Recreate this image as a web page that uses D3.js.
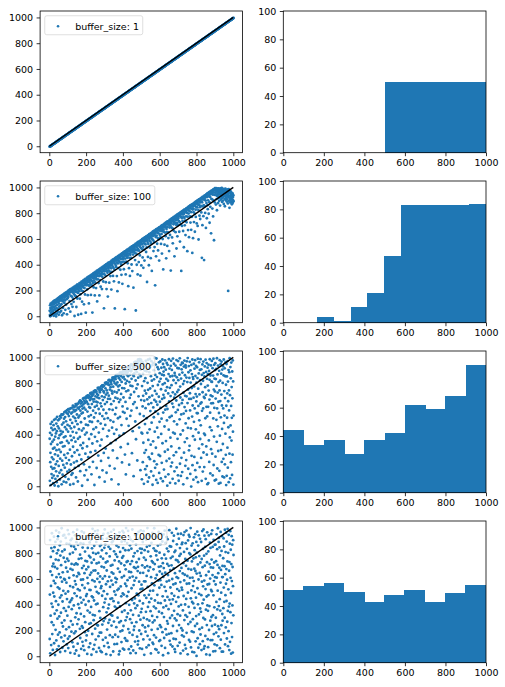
<!DOCTYPE html>
<html>
<head>
	<meta http-equiv="Content-Type" content="text/html;charset=UTF-8">
	<title>Shuffle buffer size</title>
	<style>
		body { margin: 0; background: #fff; }
		svg text { font-family: "DejaVu Sans", sans-serif; font-size: 9.5px; fill: #000; }
	</style>
</head>
<body>
	<div class="drawing"></div>

	<script src="https://d3js.org/d3.v7.min.js"></script>
	<script type="text/javascript">
		/* buffer sizes, one per row */
		var bufferSizes = [1, 100, 500, 10000];

		/* output position -> original index. buffer_size 1 keeps the input order */
		var order1 = d3.range(1000);

		var order100 = [
			45,12,88,3,67,101,30,56,9,94,72,21,108,40,63,16,99,80,35,112,
			118,52,7,96,122,74,28,124,60,105,19,129,84,47,120,2,110,133,66,24,
			136,91,127,38,142,115,58,134,145,14,102,143,77,151,122,33,139,156,86,148,
			158,130,44,162,97,150,163,11,141,165,119,169,69,155,168,132,26,174,160,108,
			178,147,179,126,170,53,181,186,157,93,184,176,136,191,18,188,166,194,144,180,
			196,152,201,64,187,204,173,199,121,207,209,189,39,212,200,162,215,208,98,214,
			208,155,193,218,76,188,225,139,209,186,115,224,208,173,232,5,203,221,163,229,
			194,238,160,222,210,75,238,191,233,248,141,212,225,248,184,15,244,207,235,228,
			242,198,261,221,139,256,236,173,263,216,256,21,236,271,202,250,116,270,230,268,
			240,275,197,266,283,226,96,259,276,222,287,247,172,273,293,260,31,287,243,277,
			292,252,276,302,212,291,269,167,304,244,291,310,269,103,304,285,238,315,266,303,
			286,318,252,308,169,318,285,305,327,243,318,274,32,328,303,317,262,336,299,227,
			335,281,319,342,306,165,335,266,332,347,303,322,222,346,290,342,355,315,118,339,
			333,360,290,354,319,348,261,364,314,337,165,365,352,284,373,332,362,232,370,317,
			367,330,380,347,214,375,309,366,387,331,375,273,388,353,369,65,390,330,379,398,
			352,397,372,319,392,267,405,368,390,214,403,355,390,412,341,401,156,384,415,374,
			419,395,357,414,264,409,384,424,348,409,315,426,398,422,375,210,435,408,347,426,
			403,433,389,442,316,421,431,378,446,274,419,441,365,436,64,452,410,436,457,397,
			450,386,444,462,421,315,460,437,198,455,413,469,437,377,465,453,266,474,428,467,
			452,480,421,469,364,478,447,467,405,486,325,475,447,492,424,255,485,465,493,445,
			498,459,485,368,496,426,481,506,58,473,497,451,508,328,484,505,427,498,517,472,
			505,457,521,490,414,516,474,237,507,526,490,376,526,457,522,509,316,536,480,521,
			497,536,519,457,533,405,545,513,532,354,502,544,522,482,552,225,537,519,555,504,
			556,530,495,553,439,548,565,518,48,555,544,489,569,403,537,567,514,576,328,559,
			524,580,554,571,424,579,512,568,585,544,475,581,559,318,592,534,581,573,398,592,
			587,562,601,523,596,460,584,603,543,379,594,610,569,521,605,435,586,615,566,602,
			617,561,608,591,502,624,601,537,621,269,593,620,579,631,464,617,564,632,609,399,
			619,640,596,634,536,618,641,583,635,454,649,613,568,643,631,355,650,602,642,658,
			625,654,593,661,509,646,636,666,580,657,540,667,631,243,659,651,618,676,468,669,
			679,629,666,675,566,651,683,610,668,514,685,648,680,600,693,435,668,688,636,685,
			674,697,617,692,664,565,705,689,641,702,490,679,710,663,602,702,694,367,713,675,
			711,658,721,694,559,710,720,653,707,727,625,693,720,453,731,680,719,736,657,549,
			698,740,719,733,655,610,742,714,732,509,743,692,751,726,634,743,708,754,358,739,
			755,725,692,762,750,615,741,759,686,569,768,740,755,717,666,774,766,733,468,758,
			768,727,779,754,656,784,748,771,711,529,783,768,791,728,624,785,754,793,711,780,
			766,800,742,795,659,785,803,734,583,796,782,810,717,807,773,355,801,815,766,704,
			818,794,743,812,823,665,808,777,823,539,798,830,766,819,709,828,813,746,633,830,
			819,779,841,808,732,839,831,804,508,846,776,839,672,852,825,800,848,617,841,858,
			821,854,844,779,863,730,840,863,811,674,859,870,839,775,859,495,874,831,855,609,
			876,839,811,873,734,884,864,873,799,659,884,860,891,830,774,883,877,895,850,724,
			884,900,849,879,704,897,869,904,828,599,898,910,867,894,784,910,886,850,758,909,
			919,892,860,916,809,911,923,457,888,911,710,930,856,923,911,780,931,866,917,439,
			927,940,906,858,936,805,925,944,901,689,939,950,882,937,764,951,928,956,866,834,
			955,903,961,943,799,956,934,966,889,729,956,968,929,853,967,950,975,647,966,914,
			979,957,972,911,839,982,969,947,778,988,982,903,963,593,990,980,946,887,997,987,
			994,961,978,870,998,942,985,913,971,826,992,953,935,984,881,996,967,919,989,948,
			976,897,993,958,930,981,862,970,949,995,908,986,939,964,918,999,952,891,974,925,
			983,946,901,968,932,991,875,959,940,987,916,962,857,977,938,993,905,954,971,922,
			944,980,893,963,910,988,934,951,879,973,200,958,926,990,899,937,966,845,982,915,
			931,975,886,953,907,969,945,892,960,923,872,948,936,911,957,884,928,902,943,895
		];

		var order500 = [
			372,45,418,190,263,487,12,331,154,456,98,401,227,503,68,349,139,440,295,27,
			212,477,86,365,519,143,302,9,446,251,388,60,526,174,413,119,490,283,35,431,
			541,197,327,82,468,240,515,3,376,161,452,288,524,108,399,55,547,217,340,433,
			269,536,128,409,560,18,344,482,202,557,93,425,311,563,169,497,39,383,528,246,
			578,315,147,462,540,76,391,586,224,507,33,444,571,180,355,593,116,479,259,565,
			427,601,58,339,548,206,582,131,470,604,287,15,519,395,607,172,453,568,92,361,
			612,236,495,577,104,426,629,310,544,21,598,380,187,619,463,265,585,146,532,624,
			349,641,509,72,595,418,634,198,560,642,283,485,613,40,372,645,537,161,604,446,
			658,247,551,620,386,669,120,590,322,645,500,663,211,567,627,435,7,655,298,606,
			574,683,339,638,452,687,173,613,666,87,529,691,404,650,256,598,684,481,129,662,
			702,420,656,312,695,583,52,708,477,640,229,689,545,706,370,617,152,699,506,672,
			612,725,268,689,556,718,407,96,730,641,502,703,335,678,727,193,590,715,446,660,
			742,537,680,13,733,619,387,748,278,701,571,745,460,659,737,145,629,720,352,693,
			655,766,508,711,241,758,603,420,769,687,73,745,566,733,318,762,647,490,751,200,
			779,624,365,755,701,786,548,127,773,672,449,788,597,741,262,730,783,526,694,39,
			641,806,479,763,296,799,715,570,810,108,748,657,803,391,728,794,532,682,805,224,
			826,706,435,789,600,829,162,754,681,820,515,772,337,812,640,795,56,743,828,458,
			723,846,596,281,838,776,503,849,664,817,410,841,737,140,802,850,562,691,834,362,
			865,612,793,443,857,731,868,221,809,684,860,531,778,869,18,750,842,657,866,396,
			787,884,542,829,675,889,306,858,720,886,478,813,874,188,765,890,623,847,581,877,
			906,692,852,414,899,763,909,573,833,249,880,908,658,801,95,893,740,904,527,870,
			821,927,605,885,930,332,858,747,921,472,900,928,171,812,915,689,868,929,549,784,
			943,714,896,949,591,837,947,260,912,780,940,431,869,945,641,927,81,858,948,735,
			879,965,657,931,968,506,903,824,966,368,950,762,969,611,889,958,203,937,794,962,
			985,846,957,701,988,915,459,978,873,990,564,941,982,128,908,857,986,672,962,419,
			934,57,781,412,968,623,190,875,705,341,952,548,22,819,667,263,901,745,486,136,
			842,609,977,284,723,91,896,531,160,958,677,418,806,39,985,752,363,640,229,917,
			71,889,694,445,991,213,762,587,930,326,858,118,649,974,497,823,256,707,943,15,
			781,960,352,615,84,904,539,833,198,673,999,427,743,146,867,584,948,302,660,52,
			995,720,173,851,458,636,927,29,789,565,382,912,246,698,965,107,816,503,881,659,
			238,972,611,837,64,756,409,923,528,185,869,681,987,337,794,42,952,575,713,893,
			865,133,927,690,467,803,271,981,598,76,745,908,354,627,836,199,960,514,772,8,
			603,946,287,822,724,96,874,442,989,661,218,917,539,767,30,855,380,703,938,157,
			977,312,788,549,906,187,645,859,61,732,994,420,618,826,243,954,507,690,119,883,
			411,862,716,25,940,577,804,268,669,983,149,849,483,735,921,371,596,88,975,827,
			751,46,918,634,299,869,523,996,178,777,692,405,946,83,839,561,224,911,648,962,
			113,886,673,958,436,797,18,729,567,932,264,820,979,618,346,865,705,162,943,491,
			925,588,206,847,701,973,375,66,812,649,998,457,754,139,888,531,936,282,681,844,
			317,969,725,592,99,903,808,452,681,1,945,239,766,874,544,987,167,630,851,392,
			836,54,691,954,503,778,231,916,607,364,982,128,859,719,445,938,73,662,808,571,
			699,927,184,843,570,993,35,761,627,419,879,296,965,515,716,152,906,827,370,644,
			990,476,797,223,911,654,45,868,589,329,949,733,117,822,607,971,265,882,696,412,
			152,855,688,933,401,772,531,986,61,714,891,312,620,959,248,837,545,19,924,785,
			873,620,28,947,746,359,898,192,676,829,989,462,574,103,863,708,941,291,647,815,
			437,976,813,256,701,920,87,648,862,530,993,168,754,389,946,611,838,48,739,905,
			958,233,684,835,54,915,519,782,348,997,607,141,871,730,468,940,277,659,812,23,
			572,899,123,747,982,396,823,664,29,951,538,284,877,715,971,192,630,448,909,79,
			805,331,934,607,216,864,987,495,72,742,552,919,173,688,857,411,966,247,791,12,
			628,952,84,856,535,724,303,975,147,816,663,461,905,35,747,592,889,256,997,382,
			710,64,928,475,841,190,627,963,358,773,534,91,894,686,248,980,427,817,16,552
		];

		var order10000 = [
			137,482,905,26,661,318,774,549,90,843,412,267,958,633,175,701,386,52,819,496,
			722,245,588,931,104,467,850,333,696,13,569,891,208,754,431,979,126,617,360,802,
			57,684,295,912,538,171,826,403,749,82,641,964,312,527,188,865,459,36,785,616,
			893,341,710,149,476,997,263,582,817,69,428,655,234,939,511,119,768,376,603,945,
			281,830,164,597,43,736,489,922,355,690,212,574,878,95,447,761,318,660,983,139,
			506,67,744,386,951,229,612,875,158,423,797,548,30,681,904,276,437,859,194,720,
			369,916,452,111,673,248,808,539,966,77,631,398,854,181,714,492,23,587,942,305,
			834,196,561,724,48,889,337,470,623,986,253,716,101,524,868,407,651,290,759,8,
			640,377,938,514,216,792,145,459,881,332,597,60,763,419,972,237,688,556,115,847,
			224,599,83,877,441,705,962,312,50,648,533,190,816,268,744,403,915,126,471,677,
			928,165,486,739,21,612,358,844,569,201,696,937,430,74,783,255,518,887,342,635,
			103,770,517,260,907,386,653,15,729,468,841,176,594,992,325,460,806,58,668,283,
			753,436,861,92,584,320,975,217,669,542,133,798,406,891,37,724,503,246,951,604,
			411,980,242,646,805,159,492,730,68,918,353,579,187,859,623,301,44,776,532,867,
			186,547,699,35,826,473,249,914,605,131,761,384,952,276,508,693,82,845,420,988,
			625,297,871,448,147,731,562,19,802,344,669,917,210,486,739,107,585,958,375,263,
			853,73,404,934,620,285,778,167,541,836,449,12,706,325,969,591,241,654,888,452,
			318,712,151,559,897,40,644,431,985,272,818,506,97,747,389,923,170,611,480,795,
			577,945,229,863,377,602,99,775,517,303,936,684,154,419,851,527,17,739,266,965,
			42,658,390,813,196,931,545,276,723,468,113,892,615,347,768,203,976,491,62,843,
			781,238,963,482,627,54,709,359,897,143,566,826,282,678,415,998,124,548,735,307,
			469,882,122,594,741,336,976,214,503,827,58,659,402,928,186,613,864,291,719,27,
			909,360,656,79,838,531,263,741,440,987,169,622,895,325,48,778,556,207,694,413,
			235,590,804,452,117,943,376,687,28,871,612,268,733,489,951,155,397,820,664,94,
			697,121,476,969,318,758,582,203,916,433,65,839,650,287,524,981,345,176,805,559,
			371,836,60,709,527,244,890,413,651,134,974,301,769,585,14,476,827,692,227,918,
			584,194,751,348,909,456,72,627,853,290,703,998,162,541,386,816,238,667,89,480,
			945,423,279,862,133,695,511,936,353,779,25,617,451,884,208,742,569,316,961,108,
			266,731,512,98,678,841,389,167,997,554,281,719,436,823,59,608,930,375,148,786,
			819,53,634,926,307,480,752,215,863,418,591,32,968,697,349,121,535,807,661,244,
			128,594,873,415,701,229,954,557,84,763,337,642,894,190,468,726,11,619,382,949,
			688,307,145,791,542,978,436,68,652,883,213,509,761,394,928,171,583,839,276,720,
			464,912,256,633,27,818,369,705,177,591,982,441,123,857,300,672,537,94,765,409,
			854,182,709,491,961,320,603,79,777,444,238,898,561,139,685,939,356,472,812,58,
			297,648,37,823,568,136,751,426,993,281,617,872,199,525,747,330,84,953,610,462,
			734,390,916,245,511,782,109,664,843,318,579,25,797,954,402,221,689,536,873,166,
			519,886,203,646,359,47,726,944,471,156,813,592,284,967,636,91,405,758,322,881,
			63,705,448,979,185,566,837,309,626,745,18,497,902,253,681,387,945,130,568,803,
			931,340,612,116,794,269,998,453,72,675,514,862,196,739,425,37,613,880,291,548,
			413,762,190,587,926,34,683,378,827,501,238,951,665,119,771,458,315,891,6,645,
			808,256,970,531,143,716,406,862,69,599,942,328,488,781,213,650,97,915,374,731,
			172,627,348,890,477,51,758,582,225,975,414,695,120,836,546,300,987,442,62,784,
			591,939,81,706,289,853,161,525,912,365,632,17,798,467,245,733,965,398,560,135,
			356,74,817,478,660,941,207,564,393,719,13,885,606,279,844,128,693,519,953,308,
			754,507,238,981,129,633,852,322,690,41,476,907,175,587,731,383,96,868,248,617,
			43,869,560,302,741,187,425,950,613,88,834,367,712,512,997,236,648,158,891,393,
			922,213,690,849,446,66,786,358,575,968,132,673,497,244,821,39,935,618,331,704,
			279,618,39,764,376,918,536,183,855,426,702,302,985,95,640,477,812,227,566,962,
			680,432,893,141,597,271,739,992,355,81,806,523,198,946,389,667,51,734,412,877,
			115,974,345,612,830,494,23,719,261,935,587,152,869,398,696,32,547,904,321,789
		];

		/* histograms of the original index over the second half of the output */
		var histCounts1 = [50, 50, 50, 50, 50, 50, 50, 50, 50, 50];
		var histRange1 = [500, 999];
		var histCounts100 = [4, 1, 11, 21, 47, 83, 83, 83, 83, 84];
		var histRange100 = [165, 999];
		var histCounts500 = [44, 34, 37, 27, 37, 42, 62, 59, 68, 90];
		var histRange500 = [0, 999];
		var histCounts10000 = [51, 54, 56, 50, 43, 48, 51, 43, 49, 55];
		var histRange10000 = [0, 995];

		/* reference line y = x */
		var diagonal = [[0, 0], [1000, 1000]];

		var scatterTicks = [0, 200, 400, 600, 800, 1000];
		var histXTicks = [0, 200, 400, 600, 800, 1000];
		var histYTicks = [0, 20, 40, 60, 80, 100];

		var orders = [order1, order100, order500, order10000];
		var histCounts = [histCounts1, histCounts100, histCounts500, histCounts10000];
		var histRanges = [histRange1, histRange100, histRange500, histRange10000];

		var w = 505, h = 687;
		var blue = "#1f77b4";
		var rowTop = 11, rowStep = 170, rowH = 141.7;
		var fmt = d3.format("d");

		var SVG = d3.select("div.drawing").append("svg")
					.attr("width", w)
					.attr("height", h);

		/* left column scales */
		var sx = d3.scaleLinear().domain([-50, 1050]).range([40.1, 242.5]);
		var sy = d3.scaleLinear().domain([-50, 1050]).range([rowH, 0]);
		/* right column scales */
		var hx = d3.scaleLinear().domain([0, 1000]).range([283.3, 486]);
		var hy = d3.scaleLinear().domain([0, 100]).range([rowH, 0]);

		function styleAxis(g){
			g.select(".domain").remove();
			g.selectAll(".tick line").attr("stroke", "#000").attr("stroke-width", 0.8);
			g.selectAll(".tick text").attr("fill", "#000").style("font-size", "9.5px")
				.style("font-family", "'DejaVu Sans', sans-serif");
		}

		function frame(g, x0, x1){
			g.append("rect")
				.attr("x", x0).attr("y", 0)
				.attr("width", x1 - x0).attr("height", rowH)
				.attr("fill", "none").attr("stroke", "#000").attr("stroke-width", 0.8);
		}

		bufferSizes.forEach(function(size, i){
			var row = SVG.append("g")
				.attr("transform", "translate(0," + (rowTop + i * rowStep) + ")");

			/* scatter */
			var left = row.append("g");
			left.selectAll("circle")
				.data(orders[i])
				.enter().append("circle")
				.attr("cx", function(d, k){ return sx(k) + 0.4; })
				.attr("cy", function(d){ return sy(d) + 0.4; })
				.attr("r", 1.4)
				.attr("fill", blue);

			left.append("path")
				.attr("d", d3.line().x(function(d){ return sx(d[0]); }).y(function(d){ return sy(d[1]); })(diagonal))
				.attr("fill", "none").attr("stroke", "#000").attr("stroke-width", 1.4);

			left.append("g")
				.attr("transform", "translate(0," + rowH + ")")
				.call(d3.axisBottom(sx).tickValues(scatterTicks).tickFormat(fmt).tickSize(3.5).tickPadding(3.5))
				.call(styleAxis);
			left.append("g")
				.attr("transform", "translate(40.1,0)")
				.call(d3.axisLeft(sy).tickValues(scatterTicks).tickFormat(fmt).tickSize(3.5).tickPadding(3.5))
				.call(styleAxis);
			frame(left, 40.1, 242.5);

			/* legend */
			var leg = left.append("g").attr("transform", "translate(44.75,4.75)");
			var box = leg.append("rect")
				.attr("x", 0).attr("y", 0).attr("height", 19).attr("rx", 2)
				.attr("fill", "#fff").attr("fill-opacity", 0.8)
				.attr("stroke", "#ccc").attr("stroke-opacity", 0.8).attr("stroke-width", 0.8);
			leg.append("circle")
				.attr("cx", 13.3).attr("cy", 10.5).attr("r", 1.3).attr("fill", blue);
			var label = leg.append("text")
				.attr("x", 30.4).attr("y", 10.5).attr("dy", "0.35em")
				.text("buffer_size: " + size);
			box.attr("width", 30.4 + label.node().getComputedTextLength() + 3.8);

			/* histogram */
			var right = row.append("g");
			var counts = histCounts[i];
			var edges = d3.scaleLinear().domain([0, counts.length]).range(histRanges[i]);
			right.selectAll("rect.bar")
				.data(counts)
				.enter().append("rect")
				.attr("class", "bar")
				.attr("x", function(d, k){ return hx(edges(k)); })
				.attr("width", function(d, k){ return hx(edges(k + 1)) - hx(edges(k)) + 0.6; })
				.attr("y", function(d){ return hy(d); })
				.attr("height", function(d){ return rowH - hy(d); })
				.attr("fill", blue)
				.attr("shape-rendering", "crispEdges");

			right.append("g")
				.attr("transform", "translate(0," + rowH + ")")
				.call(d3.axisBottom(hx).tickValues(histXTicks).tickFormat(fmt).tickSize(3.5).tickPadding(3.5))
				.call(styleAxis);
			right.append("g")
				.attr("transform", "translate(283.3,0)")
				.call(d3.axisLeft(hy).tickValues(histYTicks).tickFormat(fmt).tickSize(3.5).tickPadding(3.5))
				.call(styleAxis);
			frame(right, 283.3, 486);
		});
	</script>
</body>
</html>
